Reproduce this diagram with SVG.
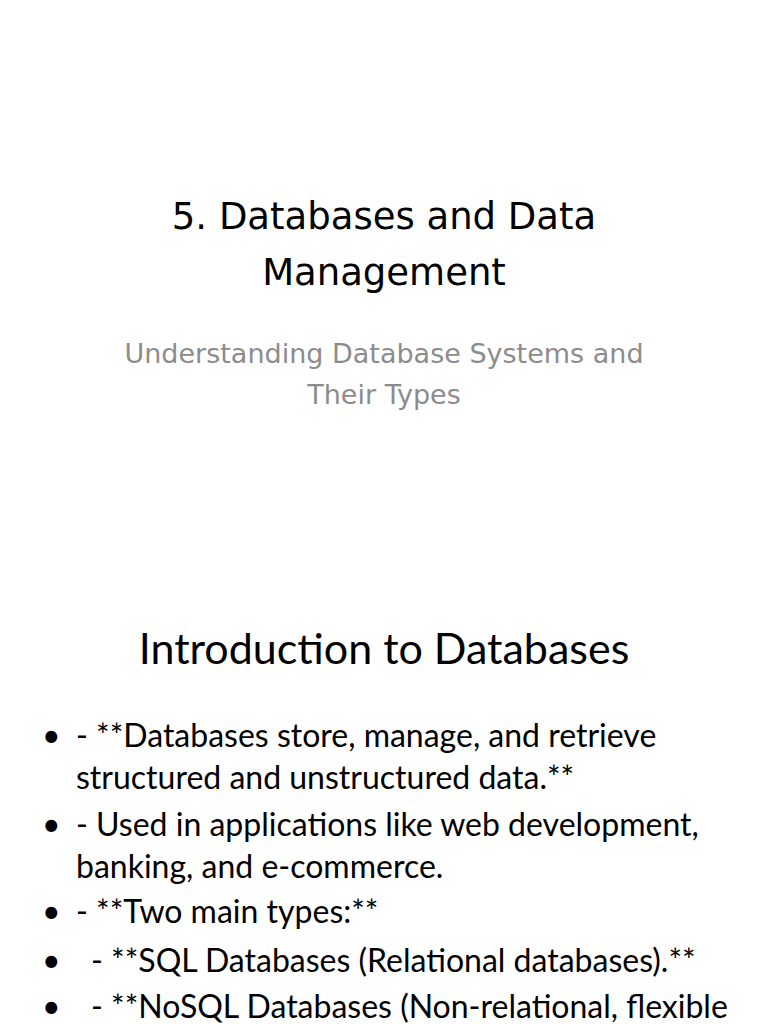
<svg xmlns="http://www.w3.org/2000/svg" width="768" height="1024" viewBox="0 0 768 1024">
<style>
.t{font-family:"DejaVu Sans",sans-serif;font-size:37px;fill:#000;text-anchor:middle}
.s{font-family:"DejaVu Sans",sans-serif;font-size:27px;fill:#8c8c8c;text-anchor:middle}
.h{font-family:Lato,"Open Sans",sans-serif;font-size:43px;fill:#000;text-anchor:middle}
.b{font-family:Lato,"Open Sans",sans-serif;font-size:32px;fill:#000}
</style>
<rect width="768" height="1024" fill="#fff"/>
<text class="t" x="384" y="229">5. Databases and Data</text>
<text class="t" x="384" y="285">Management</text>
<text class="s" x="384" y="363">Understanding Database Systems and</text>
<text class="s" x="384" y="404">Their Types</text>
<text class="h" x="384" y="664">Introduction to Databases</text>
<g class="b">
<text x="42" y="747">•</text><text x="76" y="747">- **Databases store, manage, and retrieve</text>
<text x="76" y="789">structured and unstructured data.**</text>
<text x="42" y="836">•</text><text x="76" y="836">- Used in applications like web development,</text>
<text x="76" y="878">banking, and e-commerce.</text>
<text x="42" y="923">•</text><text x="76" y="923">- **Two main types:**</text>
<text x="42" y="972">•</text><text x="91" y="972">- **SQL Databases (Relational databases).**</text>
<text x="42" y="1018">•</text><text x="91" y="1018">- **NoSQL Databases (Non-relational, flexible</text>
</g>
</svg>
